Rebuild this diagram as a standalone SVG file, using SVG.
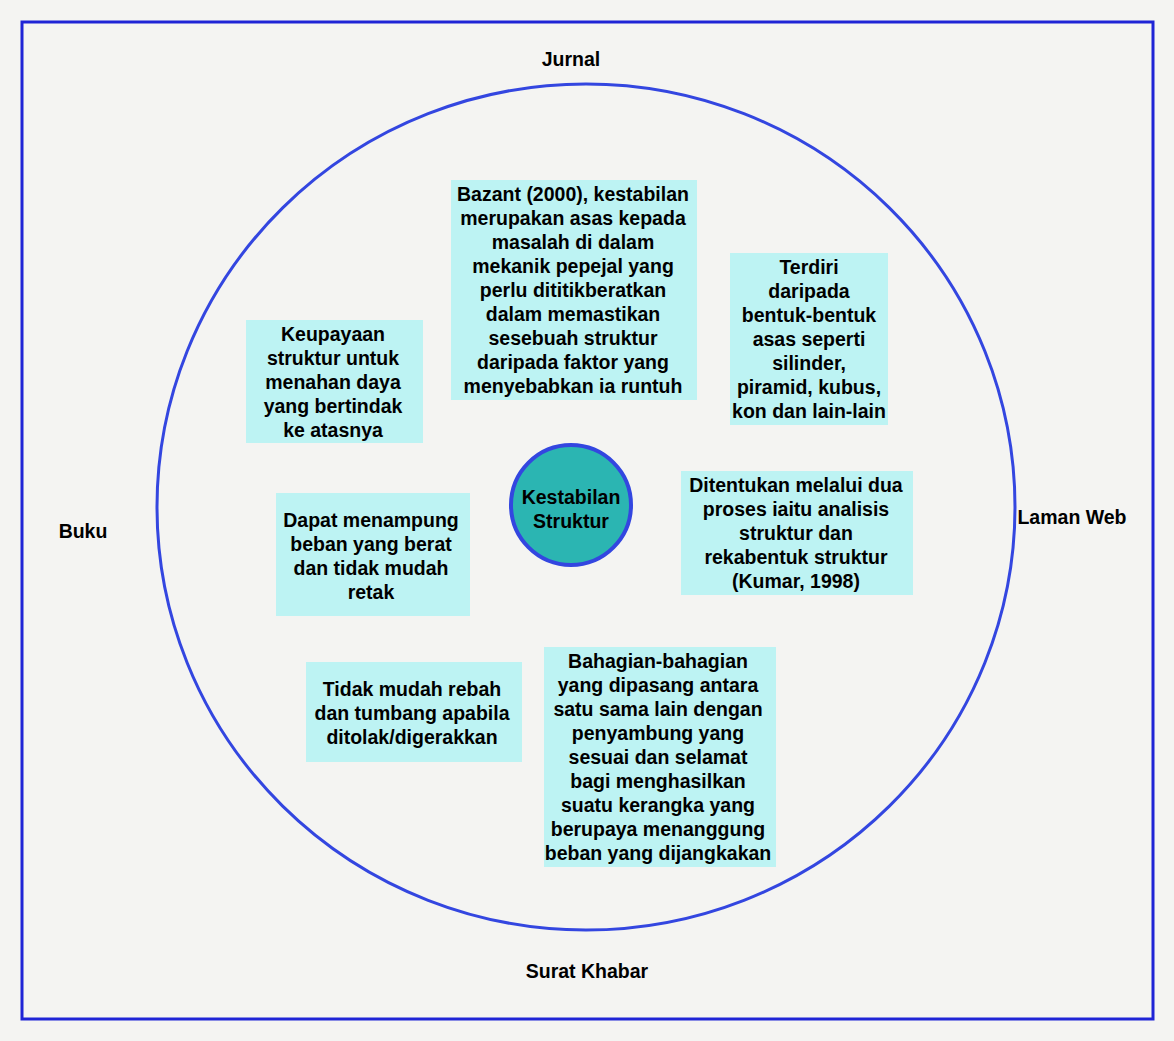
<svg xmlns="http://www.w3.org/2000/svg" width="1174" height="1041" viewBox="0 0 1174 1041">
<style>
text{font-family:"Liberation Sans",Arial,sans-serif;font-weight:bold;font-size:19.5px;fill:#000;text-anchor:middle}
.b{fill:#bdf3f3}
</style>
<rect width="1174" height="1041" fill="#f4f4f2"/>
<g id="frame"><rect x="22" y="22" width="1131" height="997" fill="none" stroke="#1f24d6" stroke-width="3"/></g>
<g id="connectors"></g>
<g id="ring"><ellipse cx="586" cy="507" rx="429" ry="423" fill="none" stroke="#3346e0" stroke-width="3"/></g>
<g id="labels">
<text x="571" y="66">Jurnal</text>
<text x="83" y="538">Buku</text>
<text x="1072" y="524">Laman Web</text>
<text x="587" y="978">Surat Khabar</text>
</g>
<g id="center"><circle cx="571" cy="505" r="60" fill="#2bb5b2" stroke="#3346e0" stroke-width="4"/>
<text x="571" y="504">Kestabilan</text><text x="571" y="528">Struktur</text></g>
<g id="n1"><rect class="b" x="451" y="180" width="246" height="220"/>
<text x="573" y="201">Bazant (2000), kestabilan</text><text x="573" y="225">merupakan asas kepada</text><text x="573" y="249">masalah di dalam</text><text x="573" y="273">mekanik pepejal yang</text><text x="573" y="297">perlu dititikberatkan</text><text x="573" y="321">dalam memastikan</text><text x="573" y="345">sesebuah struktur</text><text x="573" y="369">daripada faktor yang</text><text x="573" y="393">menyebabkan ia runtuh</text></g>
<g id="n2"><rect class="b" x="730" y="253" width="158" height="172"/>
<text x="809" y="274">Terdiri</text><text x="809" y="298">daripada</text><text x="809" y="322">bentuk-bentuk</text><text x="809" y="346">asas seperti</text><text x="809" y="370">silinder,</text><text x="809" y="394">piramid, kubus,</text><text x="809" y="418">kon dan lain-lain</text></g>
<g id="n3"><rect class="b" x="246" y="320" width="177" height="123"/>
<text x="333" y="341">Keupayaan</text><text x="333" y="365">struktur untuk</text><text x="333" y="389">menahan daya</text><text x="333" y="413">yang bertindak</text><text x="333" y="437">ke atasnya</text></g>
<g id="n4"><rect class="b" x="681" y="471" width="232" height="124"/>
<text x="796" y="492">Ditentukan melalui dua</text><text x="796" y="516">proses iaitu analisis</text><text x="796" y="540">struktur dan</text><text x="796" y="564">rekabentuk struktur</text><text x="796" y="588">(Kumar, 1998)</text></g>
<g id="n5"><rect class="b" x="276" y="493" width="194" height="123"/>
<text x="371" y="527">Dapat menampung</text><text x="371" y="551">beban yang berat</text><text x="371" y="575">dan tidak mudah</text><text x="371" y="599">retak</text></g>
<g id="n6"><rect class="b" x="306" y="662" width="216" height="100"/>
<text x="412" y="696">Tidak mudah rebah</text><text x="412" y="720">dan tumbang apabila</text><text x="412" y="744">ditolak/digerakkan</text></g>
<g id="n7"><rect class="b" x="544" y="647" width="232" height="220"/>
<text x="658" y="668">Bahagian-bahagian</text><text x="658" y="692">yang dipasang antara</text><text x="658" y="716">satu sama lain dengan</text><text x="658" y="740">penyambung yang</text><text x="658" y="764">sesuai dan selamat</text><text x="658" y="788">bagi menghasilkan</text><text x="658" y="812">suatu kerangka yang</text><text x="658" y="836">berupaya menanggung</text><text x="658" y="860">beban yang dijangkakan</text></g>
</svg>
